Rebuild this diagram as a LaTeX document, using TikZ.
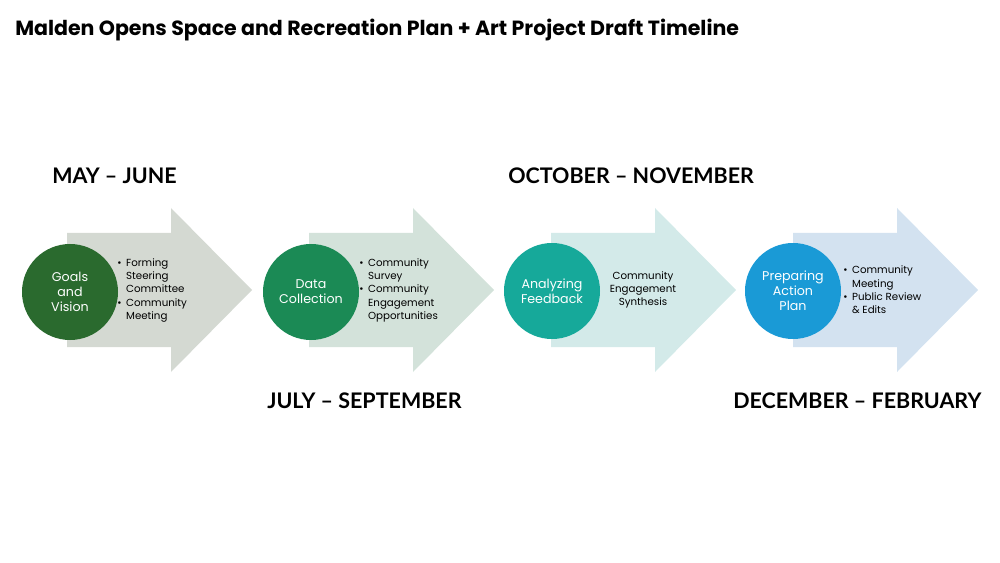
\documentclass[tikz,border=0pt]{standalone}
\usepackage{fontspec}
\setmainfont{Poppins}
\newfontfamily\datefont{Lato}
\usepackage{tikz}

\definecolor{goalsgreen}{HTML}{2A6A2E}
\definecolor{datagreen}{HTML}{1B8A55}
\definecolor{feedteal}{HTML}{16A99A}
\definecolor{planblue}{HTML}{1A9AD6}
\definecolor{arrowone}{HTML}{D4D9D2}
\definecolor{arrowtwo}{HTML}{D3E2DA}
\definecolor{arrowthree}{HTML}{D3EAE9}
\definecolor{arrowfour}{HTML}{D3E2F0}

\newcommand{\bitem}[1]{\textbullet&#1}

\begin{document}
\begin{tikzpicture}[x=0.75pt,y=-0.75pt,
    phase/.style={circle,minimum size=72pt,inner sep=0pt,text=white,align=center,
      font=\fontsize{9.5}{11.3}\selectfont},
    bullets/.style={anchor=west,inner sep=0pt,font=\fontsize{7.7}{10}\selectfont},
    period/.style={anchor=west,inner sep=0pt,font=\datefont\bfseries\fontsize{16.1}{18}\selectfont}]
    \useasboundingbox (0,0) rectangle (1000,563);
    % arrows
    \foreach \l/\c in {67/arrowone,309/arrowtwo,551/arrowthree,793/arrowfour}
      \fill[\c] (\l,233) -- ++(104,0) -- ++(0,-25) -- (\l+185,290) -- (\l+104,372) -- ++(0,-25) -- (\l,347) -- cycle;
    % title
    \node[anchor=west,inner sep=0pt,font=\bfseries\fontsize{15.4}{17}\selectfont] (title) at (15,30)
      {Malden Opens Space and Recreation Plan + Art Project Draft Timeline};
    % circles
    \node[phase,fill=goalsgreen] (goals) at (70,292) {Goals\\and\\Vision};
    \node[phase,fill=datagreen] (data) at (311,292) {Data\\Collection};
    \node[phase,fill=feedteal] (feedback) at (552,291) {Analyzing\\Feedback};
    \node[phase,fill=planblue] (plan) at (793,291) {Preparing\\Action\\Plan};
    % bullet lists
    \node[bullets] (goalsitems) at (117,290)
      {\begin{tabular}{@{}l@{\hspace{3.5pt}}l@{}}\bitem{Forming}\\&Steering\\&Committee\\\bitem{Community}\\&Meeting\end{tabular}};
    \node[bullets] (dataitems) at (359,290)
      {\begin{tabular}{@{}l@{\hspace{3.5pt}}l@{}}\bitem{Community}\\&Survey\\\bitem{Community}\\&Engagement\\&Opportunities\end{tabular}};
    \node[bullets,anchor=center,align=center] (feeditems) at (643,290)
      {Community\\Engagement\\Synthesis};
    \node[bullets] (planitems) at (843,291)
      {\begin{tabular}{@{}l@{\hspace{3.5pt}}l@{}}\bitem{Community}\\&Meeting\\\bitem{Public Review}\\&\& Edits\end{tabular}};
    % periods
    \node[period] (mayjune) at (52,176) {MAY – JUNE};
    \node[period] (octnov) at (508,176) {OCTOBER – NOVEMBER};
    \node[period] (julsep) at (267,401) {JULY – SEPTEMBER};
    \node[period] (decfeb) at (733,401) {DECEMBER – FEBRUARY};
\end{tikzpicture}
\end{document}
